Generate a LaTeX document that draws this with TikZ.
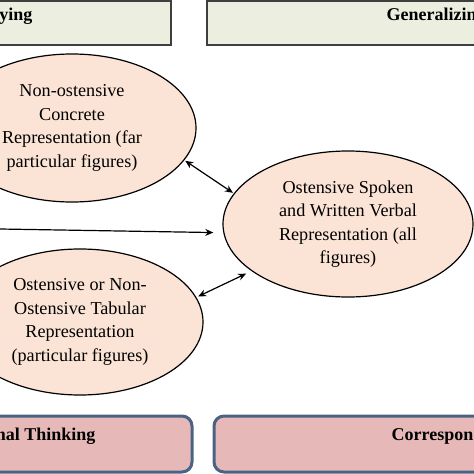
\documentclass[tikz,border=0pt]{standalone}
\usepackage{fontspec}
\setmainfont{Liberation Serif}
\usetikzlibrary{shapes.geometric,arrows.meta}
\definecolor{boxgreen}{HTML}{ECEEDF}
\definecolor{boxgray}{HTML}{3F3F3F}
\definecolor{boxpink}{HTML}{E6B9B8}
\definecolor{boxblue}{HTML}{4A6283}
\definecolor{ovalfill}{HTML}{FBE4D5}
\begin{document}
\begin{tikzpicture}[x=1pt, y=-1pt, line width=1.2pt,
    topbox/.style={draw=boxgray, fill=boxgreen, line width=1.5pt},
    lowbox/.style={draw=boxblue, fill=boxpink, line width=3pt, rounded corners=10pt},
    oval/.style={ellipse, draw=black, fill=ovalfill, inner sep=0pt, align=center,
        font=\fontsize{18.2}{23.5}\selectfont},
    lbl/.style={inner sep=0pt, font=\fontsize{18}{21}\selectfont\bfseries},
    link/.style={{Stealth[length=8pt,width=7pt]}-{Stealth[length=8pt,width=7pt]}}]
    \useasboundingbox (0, 0) rectangle (474, 474);
    \clip (0, 0) rectangle (474, 474);
    \draw[topbox] (-20, 1) rectangle (171, 45);
    \draw[topbox] (207, 1) rectangle (494, 45);
    \draw[lowbox] (-20, 416) rectangle (192, 472);
    \draw[lowbox] (214, 416) rectangle (494, 472);
    \node[lbl, anchor=mid east] (ident) at (33, 18) {ying};
    \node[lbl, anchor=mid west] (general) at (386, 18) {Generalizin};
    \node[lbl, anchor=mid east] (functional) at (96, 438) {nal Thinking};
    \node[lbl, anchor=mid west] (corresp) at (391, 438) {Correspon};
    \node[oval, minimum width=248pt, minimum height=148pt] (concrete) at (72, 128)
        {\raisebox{-2pt}{\parbox{170pt}{\centering Non-ostensive\\Concrete\\Representation (far\\particular figures)}}};
    \node[oval, minimum width=250pt, minimum height=146pt] (verbal) at (348, 224)
        {\raisebox{-4pt}{\parbox{170pt}{\centering Ostensive Spoken\\and Written Verbal\\Representation (all\\figures)}}};
    \node[oval, minimum width=246pt, minimum height=146pt] (tabular) at (80, 322)
        {\raisebox{-3pt}{\parbox{170pt}{\centering Ostensive or Non-\\Ostensive Tabular\\Representation\\(particular figures)}}};
    \coordinate (start) at (0, 229);
    \draw[link, shorten <=1pt, shorten >=1pt] (concrete.-16) -- (verbal.165);
    \draw[link, shorten <=2pt, shorten >=6pt] (tabular.12) -- (verbal.206);
    \draw[-{Stealth[length=8pt,width=7pt]}, shorten >=10pt] (start) -- (verbal.184);
\end{tikzpicture}
\end{document}
